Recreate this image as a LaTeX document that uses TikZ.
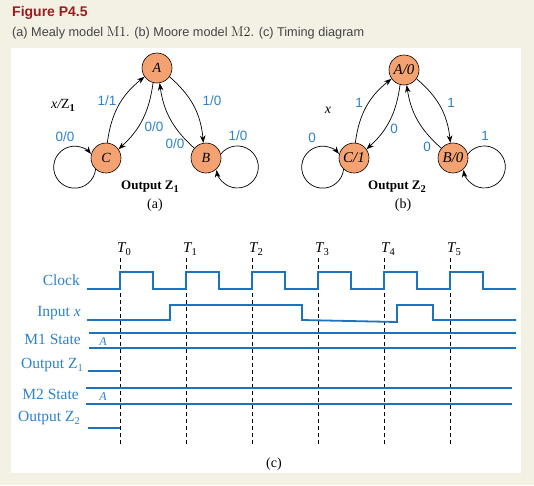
\documentclass[tikz,border=0pt]{standalone}
\usepackage{fontspec}
\newfontfamily\tnr{Liberation Serif}
\newfontfamily\arial{Liberation Sans}
\usetikzlibrary{arrows.meta}
\definecolor{bgc}{HTML}{F3F0E4}
\definecolor{titlered}{HTML}{9B1C1C}
\definecolor{subgray}{HTML}{444444}
\definecolor{wave}{HTML}{1D74BE}
\definecolor{lbl}{HTML}{2C82CC}
\definecolor{orangec}{HTML}{F4A271}
\tikzset{
  state/.style={circle, draw=black, line width=0.6pt, fill=orangec, minimum size=30pt, inner sep=0pt, font=\tnr\itshape\fontsize{14}{14}\selectfont},
  mstate/.style={state, font=\tnr\itshape\fontsize{15}{15}\selectfont},
  arr/.style={-{Stealth[length=7.5pt,width=5.5pt]}, line width=0.7pt},
  elbl/.style={text=lbl, font=\arial\fontsize{13.5}{14}\selectfont, inner sep=0pt},
  captxt/.style={font=\tnr\fontsize{14}{15}\selectfont, inner sep=0pt},
  outlbl/.style={font=\tnr\bfseries\fontsize{13}{14}\selectfont, inner sep=0pt},
  tlbl/.style={font=\tnr\fontsize{15}{16}\selectfont, inner sep=0pt},
  rowlbl/.style={text=lbl, font=\tnr\fontsize{15.5}{16}\selectfont, anchor=east, inner sep=0pt},
  stlbl/.style={text=lbl, font=\tnr\itshape\fontsize{12}{12}\selectfont, inner sep=0pt},
  wavel/.style={draw=wave, line width=1.8pt},
  tickline/.style={draw=black, line width=0.6pt, dash pattern=on 4pt off 3pt},
}
\newcommand{\sbs}[1]{\raisebox{-0.45ex}{\fontsize{10.5}{10.5}\selectfont #1}}
\begin{document}
\begin{tikzpicture}[x=1pt,y=1pt]
\fill[bgc] (0,0) rectangle (534,-485);
\fill[white] (11,-48) rectangle (521,-473);
\useasboundingbox (0,0) rectangle (534,-485);

% title
\node[anchor=base west, inner sep=0pt, text=titlered, font=\arial\bfseries\fontsize{14}{16}\selectfont] (title) at (12,-16) {Figure P4.5};
\node[anchor=base west, inner sep=0pt, text=subgray, font=\arial\fontsize{12.7}{14}\selectfont] (subtitle) at (12,-36) {(a) Mealy model {\rmfamily\color{black!85}\fontsize{14}{14}\selectfont M1}. (b) Moore model {\rmfamily\color{black!85}\fontsize{14}{14}\selectfont M2}. (c) Timing diagram};

% ---- (a) Mealy
\node[state] (A) at (157,-68) {A};
\node[state] (C) at (106,-158) {C};
\node[state] (B) at (206,-158) {B};
\draw[arr] (C.85) to[bend left=22] (A.-145);
\draw[arr] (A.-105) to[bend left=20] (C.35);
\draw[arr] (A.-35) to[bend left=22] (B.100);
\draw[arr] (B.140) to[bend left=20] (A.-80);
\draw[arr] (C.-133) arc[start angle=-5.5, end angle=-321, radius=21];
\draw[arr] (B.15) arc[start angle=142, end angle=-172, radius=21];
\node[captxt] (xz) at (63,-105) {{\itshape x/}Z{\bfseries\sbs{1}}};
\node[elbl] (la1) at (107,-101) {1/1};
\node[elbl] (la2) at (212,-101) {1/0};
\node[elbl] (la3) at (65,-137) {0/0};
\node[elbl] (la4) at (154,-127) {0/0};
\node[elbl] (la5) at (175,-144) {0/0};
\node[elbl] (la6) at (238,-136) {1/0};
\node[outlbl] (oa) at (150,-187) {Output Z\sbs{1}};
\node[captxt] (capa) at (155,-205) {(a)};

% ---- (b) Moore
\node[mstate] (A2) at (404,-70) {A/0};
\node[mstate] (C2) at (354,-158) {C/1};
\node[mstate] (B2) at (453,-158) {B/0};
\draw[arr] (C2.85) to[bend left=22] (A2.-145);
\draw[arr] (A2.-105) to[bend left=20] (C2.35);
\draw[arr] (A2.-35) to[bend left=22] (B2.100);
\draw[arr] (B2.140) to[bend left=20] (A2.-80);
\draw[arr] (C2.-133) arc[start angle=-5.5, end angle=-321, radius=21];
\draw[arr] (B2.15) arc[start angle=142, end angle=-172, radius=21];
\node[captxt] (xb) at (328,-110) {\itshape x};
\node[elbl] (lb1) at (359,-103) {1};
\node[elbl] (lb2) at (451,-103) {1};
\node[elbl] (lb3) at (312,-138) {0};
\node[elbl] (lb4) at (394,-129) {0};
\node[elbl] (lb5) at (427,-147) {0};
\node[elbl] (lb6) at (485,-136) {1};
\node[outlbl] (ob) at (397,-187) {Output Z\sbs{2}};
\node[captxt] (capb) at (403,-205) {(b)};

% ---- (c) timing
\foreach \i/\xx in {0/120,1/186,2/252,3/318,4/384,5/450}{
  \node[tlbl] (T\i) at (\xx+4,-249) {{\itshape T}\sbs{\i}};
  \draw[tickline] (\xx,-258) -- (\xx,-445);
}
\node[rowlbl] (lclk) at (80,-280) {Clock};
\node[rowlbl] (linx) at (81,-313) {Input {\itshape x}};
\node[rowlbl] (lm1) at (81,-339) {M1 State};
\node[rowlbl] (lz1) at (83,-365) {Output Z\sbs{1}};
\node[rowlbl] (lm2) at (79,-394) {M2 State};
\node[rowlbl] (lz2) at (80,-418) {Output Z\sbs{2}};

\draw[wavel] (87,-289) -- (120,-289) -- (120,-272) -- (153,-272) -- (153,-289)
  -- (186,-289) -- (186,-272) -- (219,-272) -- (219,-289)
  -- (252,-289) -- (252,-272) -- (285,-272) -- (285,-289)
  -- (318,-289) -- (318,-272) -- (351,-272) -- (351,-289)
  -- (384,-289) -- (384,-272) -- (417,-272) -- (417,-289)
  -- (450,-289) -- (450,-272) -- (483,-272) -- (483,-289) -- (516,-289);
\draw[wavel] (87,-320) -- (170,-320) -- (170,-305) -- (302,-305) -- (302,-320)
  -- (397,-322) -- (397,-305) -- (433,-305) -- (433,-320) -- (516,-320);
\draw[wavel] (89,-333) -- (516,-333);
\draw[wavel] (89,-348) -- (516,-348);
\node[stlbl] (am1) at (103,-342) {A};
\draw[wavel] (88,-371) -- (120,-371);
\draw[wavel] (86,-388) -- (512,-388);
\draw[wavel] (86,-404) -- (512,-404);
\node[stlbl] (am2) at (103,-397) {A};
\draw[wavel] (88,-428) -- (120,-428);
\node[captxt] (capc) at (274,-464) {(c)};
\end{tikzpicture}
\end{document}
